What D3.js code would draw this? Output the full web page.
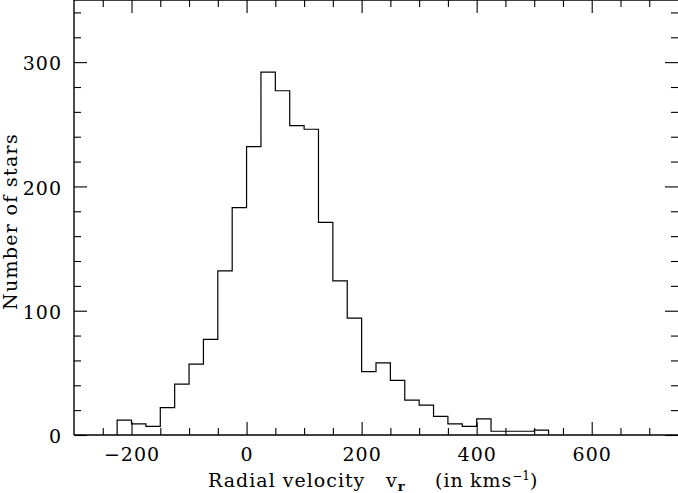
<!DOCTYPE html>
<html>
<head>
<meta charset="utf-8">
<script src="https://cdn.jsdelivr.net/npm/d3@7"></script>
<style>
  html, body { margin: 0; padding: 0; background: #fff; }
  svg { display: block; }
  text { font-family: "DejaVu Serif", serif; fill: #000; }
</style>
</head>
<body>
<script>
// ---- data ----
const binStarts = [-225, -200, -175, -150, -125, -100, -75, -50, -25, 0,
                   25, 50, 75, 100, 125, 150, 175, 200, 225, 250,
                   275, 300, 325, 350, 375, 400, 425, 450, 475, 500];
const binWidth = 25;
const counts = [12, 9, 7, 22, 41, 57, 77, 132, 183, 232,
                292, 277, 249, 246, 171, 124, 94, 51, 58, 44,
                28, 24, 15, 9, 7, 13, 3, 3, 3, 4];
const xMajorTicks = [-200, 0, 200, 400, 600];
const xMinorTicks = [-250, -150, -100, -50, 50, 100, 150, 250, 300, 350, 450, 500, 550, 650, 700];
const yMajorTicks = [0, 100, 200, 300];
const yMinorTicks = [20, 40, 60, 80, 120, 140, 160, 180, 220, 240, 260, 280, 320, 340];
const xDomain = [-300, 750];
const yDomain = [0, 350];
const xTitle = "Radial velocity";
const yTitle = "Number of stars";

// ---- layout ----
const W = 678, H = 493;
const L = 74, R = 678, T = 0, B = 435;
const FS = 19;

const svg = d3.select("body").append("svg").attr("width", W).attr("height", H);

const x = d3.scaleLinear().domain(xDomain).range([L, R]);
const y = d3.scaleLinear().domain(yDomain).range([B, T]);

function styleAxis(g) {
  g.select(".domain").remove();
  g.selectAll(".tick line").attr("stroke", "#000").attr("stroke-width", 1.1);
  g.selectAll("text").style("font-size", FS + "px").style("letter-spacing", "1px").attr("fill", "#000");
}

// bottom
svg.append("g").attr("transform", `translate(0,${B})`)
  .call(d3.axisBottom(x).tickValues(xMajorTicks).tickSize(-13).tickPadding(13)
        .tickFormat(d => d < 0 ? "\u2212" + Math.abs(d) : d))
  .call(styleAxis);
svg.append("g").attr("transform", `translate(0,${B})`)
  .call(d3.axisBottom(x).tickValues(xMinorTicks).tickSize(-7).tickFormat(""))
  .call(styleAxis);
// top
svg.append("g").attr("transform", `translate(0,${T})`)
  .call(d3.axisTop(x).tickValues(xMajorTicks).tickSize(-13).tickFormat(""))
  .call(styleAxis);
svg.append("g").attr("transform", `translate(0,${T})`)
  .call(d3.axisTop(x).tickValues(xMinorTicks).tickSize(-7).tickFormat(""))
  .call(styleAxis);
// left
svg.append("g").attr("transform", `translate(${L},0)`)
  .call(d3.axisLeft(y).tickValues(yMajorTicks).tickSize(-13).tickPadding(12))
  .call(styleAxis)
  .call(g => g.selectAll("text").attr("dy", "0.4em"));
svg.append("g").attr("transform", `translate(${L},0)`)
  .call(d3.axisLeft(y).tickValues(yMinorTicks).tickSize(-7).tickFormat(""))
  .call(styleAxis);
// right
svg.append("g").attr("transform", `translate(${R},0)`)
  .call(d3.axisRight(y).tickValues(yMajorTicks).tickSize(-13).tickFormat(""))
  .call(styleAxis);
svg.append("g").attr("transform", `translate(${R},0)`)
  .call(d3.axisRight(y).tickValues(yMinorTicks).tickSize(-7).tickFormat(""))
  .call(styleAxis);

// frame (right edge falls outside the picture)
const frame = svg.append("g").attr("stroke", "#000").attr("stroke-width", 1.4);
frame.append("line").attr("x1", L).attr("x2", L).attr("y1", T).attr("y2", B);
frame.append("line").attr("x1", L).attr("x2", R + 2).attr("y1", B).attr("y2", B);
frame.append("line").attr("x1", L).attr("x2", R + 2).attr("y1", T).attr("y2", T);

// histogram
const pts = [[binStarts[0], 0]]
  .concat(binStarts.map((b, i) => [b, counts[i]]))
  .concat([[binStarts[binStarts.length - 1] + binWidth, 0]]);
const line = d3.line().x(d => x(d[0])).y(d => y(d[1])).curve(d3.curveStepAfter);
svg.append("path").attr("d", line(pts)).attr("fill", "none")
  .attr("stroke", "#000").attr("stroke-width", 1.2);

// x title
const xt = svg.append("text").attr("y", 487).style("font-size", FS + "px").style("letter-spacing", "1px");
xt.append("tspan").attr("x", 208).text(xTitle);
xt.append("tspan").attr("x", 386).text("v");
xt.append("tspan").attr("dy", 4).style("font-size", "13px").style("font-weight", "bold").style("letter-spacing", "0px").text("r");
xt.append("tspan").attr("x", 435).attr("dy", -4).text("(in");
xt.append("tspan").attr("x", 470).text("kms");
xt.append("tspan").attr("dy", -7).style("font-size", "12px").style("letter-spacing", "0px").text("\u22121");
xt.append("tspan").attr("dy", 7).text(")");

// y title
svg.append("text")
  .attr("transform", "translate(17,221.5) rotate(-90)")
  .attr("text-anchor", "middle")
  .style("font-size", FS + "px").style("letter-spacing", "1.3px")
  .text(yTitle);
</script>
</body>
</html>
